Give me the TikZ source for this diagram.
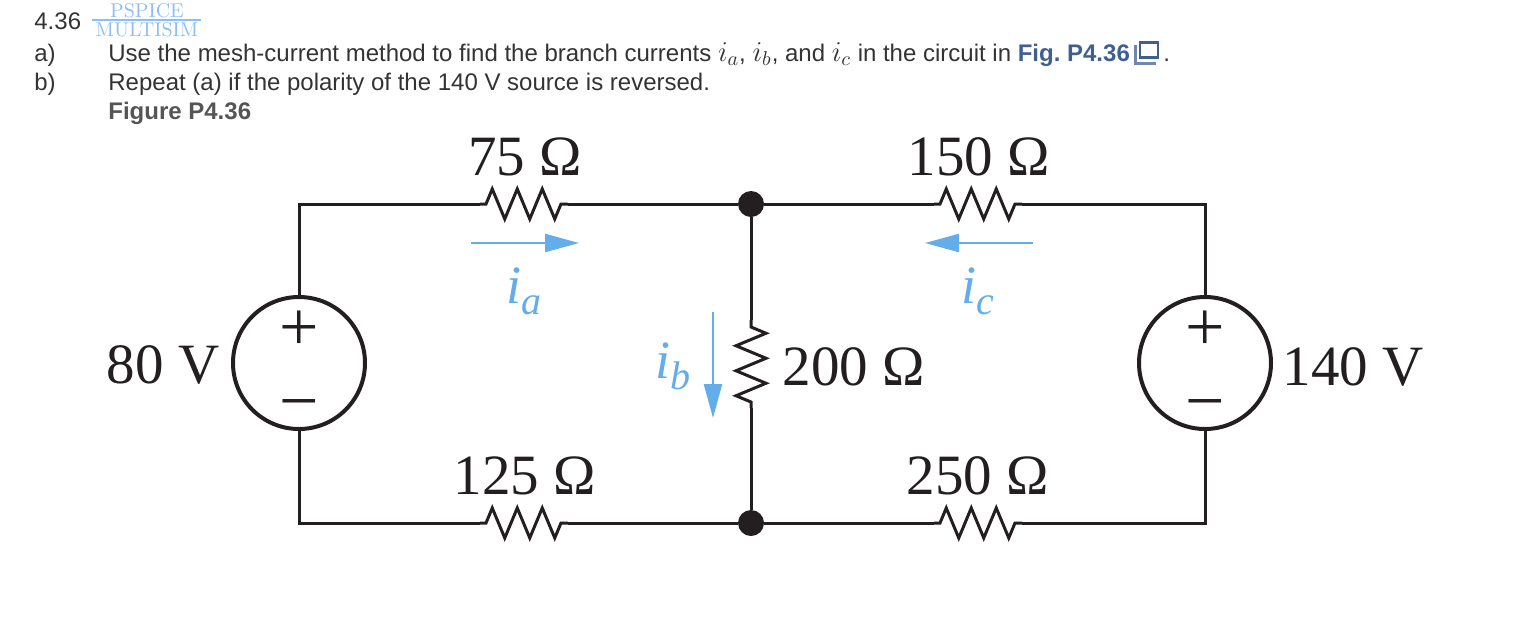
\documentclass[tikz,border=0pt]{standalone}
\usepackage{fontspec}
\usepackage{xcolor}
\usepackage{tikz}
\usetikzlibrary{arrows.meta, decorations.pathmorphing, positioning}
\setsansfont{Liberation Sans}
\newfontfamily\figfont{Liberation Serif}
\definecolor{textgray}{HTML}{333333}
\definecolor{headgray}{HTML}{555555}
\definecolor{linkblue}{HTML}{3F608F}
\definecolor{softblue}{HTML}{8CBDF5}
\definecolor{arrowblue}{HTML}{62ADEA}
\definecolor{wireblack}{HTML}{231F20}
\newcommand{\cur}[1]{i\raisebox{-.22em}{\fontsize{20}{20}\selectfont #1}}
\newcommand{\inl}[1]{{\fontsize{14}{14}\selectfont$i_#1$}}
\tikzset{
>={Triangle[length=17pt,width=9pt]}, % filled heads of the current arrows
wire/.style={draw=wireblack, line width=1.5pt}, % sets the properties for the circuit lines
res/.style={wire, miter limit=10, decorate, decoration={zigzag, segment length=12.5pt, amplitude=7.5pt, pre length=3pt, post length=3pt}}, % resistor between two coordinates
source/.style={circle, draw=wireblack, line width=2pt, minimum size=66pt, inner sep=0pt}, % voltage source
junction/.style={circle, fill=wireblack, minimum size=13pt, inner sep=0pt}, % filled node of the circuit
current/.style={->, draw=arrowblue, fill=arrowblue, line width=1.2pt}, % blue current arrows
value/.style={anchor=base, inner sep=0pt, text=wireblack, font=\figfont\fontsize{28.5}{28.5}\selectfont}, % ohm and volt labels
sign/.style={inner sep=0pt, text=wireblack, font=\figfont\fontsize{35}{35}\selectfont}, % polarity marks
curlabel/.style={anchor=base, inner sep=0pt, text=arrowblue, font=\figfont\itshape\fontsize{27}{27}\selectfont}, % current labels
body/.style={anchor=base west, inner sep=0pt, text=textgray, font=\sffamily\fontsize{12}{12}\selectfont}, % problem text
tag/.style={anchor=base, inner sep=0pt, text=softblue, font=\rmfamily\fontsize{10}{10}\selectfont}, % the two software tags
}

\begin{document}
\begin{tikzpicture}[x=0.5pt, y=-0.5pt]
        \useasboundingbox (0,0) rectangle (1532,628);

        % problem text
        \node[body] (num) at (34,29) {4.36};
        \node[tag] (pspice) at (147,17) {PSPICE};
        \node[tag] (multisim) at (147,36) {MULTISIM};
        \coordinate (ruleL) at (92,20);
        \coordinate (ruleR) at (201,20);
        \draw[softblue, line width=.6pt] (ruleL) -- (ruleR);
        \node[body] (parta) at (34,61) {a)};
        \node[body] (texta) at (108,61) {Use the mesh-current method to find the branch currents \inl{a}, \inl{b}, and \inl{c} in the circuit in \textcolor{linkblue}{\bfseries Fig.\ P4.36}};
        \node[body] (partb) at (34,90) {b)};
        \node[body] (textb) at (108,90) {Repeat (a) if the polarity of the 140 V source is reversed.};
        \node[body, text=headgray, font=\sffamily\bfseries\fontsize{12}{12}\selectfont] (figname) at (108,119) {Figure P4.36};

        % link icon
        \node[draw=linkblue, line width=1.3pt, minimum width=9pt, minimum height=7.5pt, inner sep=0pt] (icon) at (1149,50) {};
        \coordinate (iconA) at (1135,45);
        \coordinate (iconB) at (1135,63);
        \coordinate (iconC) at (1156,63);
        \draw[linkblue!75, line width=1.5pt] (iconA) -- (iconB) -- (iconC);
        \node[body] (dot) at (1163,61) {.};

        % sources and junctions
        \node[source] (v80) at (299,363) {};
        \node[source] (v140) at (1205,363) {};
        \node[junction] (top) at (751,204) {};
        \node[junction] (bot) at (751,523) {};
        \node[sign] (plus80) at (299,331) {+};
        \node[sign] (minus80) at (299,412) {\textminus};
        \node[sign] (plus140) at (1205,331) {+};
        \node[sign] (minus140) at (1205,412) {\textminus};

        % resistor ends
        \coordinate (r75a) at (480,204);
        \coordinate (r75b) at (568,204);
        \coordinate (r150a) at (934,204);
        \coordinate (r150b) at (1022,204);
        \coordinate (r125a) at (480,523);
        \coordinate (r125b) at (568,523);
        \coordinate (r250a) at (934,523);
        \coordinate (r250b) at (1022,523);
        \coordinate (r200a) at (751,320);
        \coordinate (r200b) at (751,408);

        \draw[wire] (v80) |- (r75a);
        \draw[wire] (r75b) -- (top);
        \draw[wire] (top) -- (r150a);
        \draw[wire] (r150b) -| (v140);
        \draw[wire] (v80) |- (r125a);
        \draw[wire] (r125b) -- (bot);
        \draw[wire] (bot) -- (r250a);
        \draw[wire] (r250b) -| (v140);
        \draw[wire] (top) -- (r200a);
        \draw[wire] (r200b) -- (bot);
        \draw[res] (r75a) -- (r75b);
        \draw[res] (r150a) -- (r150b);
        \draw[res] (r125a) -- (r125b);
        \draw[res] (r250a) -- (r250b);
        \draw[res] (r200b) -- (r200a);

        % current arrows
        \coordinate (iaS) at (471,243);
        \coordinate (iaE) at (579,243);
        \coordinate (icS) at (1033,243);
        \coordinate (icE) at (925,243);
        \coordinate (ibS) at (713,312);
        \coordinate (ibE) at (713,418);
        \draw[current] (iaS) -- (iaE);
        \draw[current] (icS) -- (icE);
        \draw[current] (ibS) -- (ibE);

        % labels
        \node[value] (l75) at (525,175) {75 Ω};
        \node[value] (l150) at (979,175) {150 Ω};
        \node[value] (l125) at (525,494) {125 Ω};
        \node[value] (l250) at (978,494) {250 Ω};
        \node[value] (l200) at (854,385) {200 Ω};
        \node[value] (l80) at (163,383) {80 V};
        \node[value] (l140) at (1353,385) {140 V};
        \node[curlabel] (lia) at (524,303) {\cur{a}};
        \node[curlabel] (lic) at (978,303) {\cur{c}};
        \node[curlabel] (lib) at (673,378) {\cur{b}};
\end{tikzpicture}
\end{document}
